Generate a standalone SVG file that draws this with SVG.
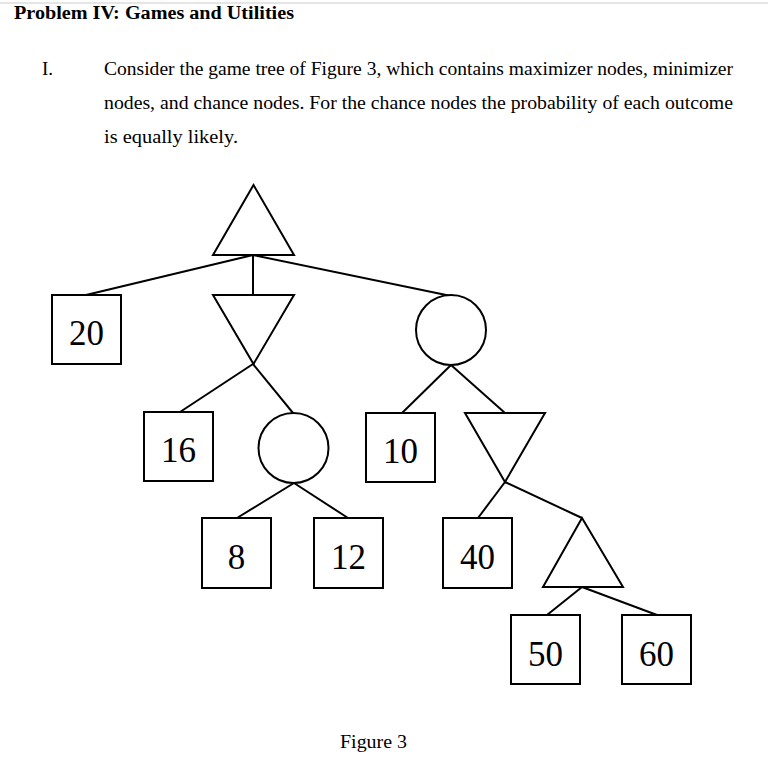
<svg xmlns="http://www.w3.org/2000/svg" width="768" height="766" viewBox="0 0 768 766">
<style>
.t{font-family:"Liberation Serif","Times New Roman",serif;fill:#000}
.s{fill:#fff;stroke:#000;stroke-width:2}
.n{font-family:"Liberation Serif","Times New Roman",serif;font-size:35px;text-anchor:middle}
.c line{stroke:#000;stroke-width:2}
</style>
<rect width="768" height="766" fill="#fff"/>
<line x1="0" y1="3" x2="768" y2="3" stroke="#ccc" stroke-width="1"/>
<text class="t" x="14" y="19" font-size="18.5" font-weight="bold" textLength="280" lengthAdjust="spacingAndGlyphs">Problem IV: Games and Utilities</text>
<text class="t" x="42" y="75" font-size="19">I.</text>
<text class="t" x="104" y="75" font-size="19" textLength="629" lengthAdjust="spacingAndGlyphs">Consider the game tree of Figure 3, which contains maximizer nodes, minimizer</text>
<text class="t" x="104" y="109" font-size="19" textLength="629" lengthAdjust="spacingAndGlyphs">nodes, and chance nodes. For the chance nodes the probability of each outcome</text>
<text class="t" x="104" y="143" font-size="19" textLength="134" lengthAdjust="spacingAndGlyphs">is equally likely.</text>
<g class="c">
<line x1="253" y1="255" x2="86" y2="295"/>
<line x1="253" y1="255" x2="253" y2="295"/>
<line x1="253" y1="255" x2="451" y2="296"/>
<line x1="253" y1="364" x2="180" y2="412"/>
<line x1="253" y1="364" x2="293" y2="413"/>
<line x1="451" y1="365" x2="402" y2="413"/>
<line x1="451" y1="365" x2="505" y2="413"/>
<line x1="294" y1="483" x2="237" y2="518"/>
<line x1="294" y1="483" x2="348" y2="518"/>
<line x1="505" y1="482" x2="478" y2="518"/>
<line x1="505" y1="482" x2="582" y2="518"/>
<line x1="582" y1="587" x2="547" y2="615"/>
<line x1="582" y1="587" x2="657" y2="615"/>
</g>
<g id="root"><polygon class="s" points="253.5,185 294,255 213,255"/></g>
<g id="n20"><rect class="s" x="52" y="295" width="69" height="69"/><text class="n" x="86.5" y="345">20</text></g>
<g id="min1"><polygon class="s" points="213,295 294,295 253.5,364"/></g>
<g id="ch1"><circle class="s" cx="451" cy="330" r="35"/></g>
<g id="n16"><rect class="s" x="144" y="412" width="69" height="69"/><text class="n" x="178.5" y="462">16</text></g>
<g id="ch2"><circle class="s" cx="293.5" cy="448" r="35"/></g>
<g id="n10"><rect class="s" x="366" y="413" width="69" height="69"/><text class="n" x="400.5" y="463">10</text></g>
<g id="min2"><polygon class="s" points="465,413 545,413 505,482"/></g>
<g id="n8"><rect class="s" x="202" y="518" width="69" height="70"/><text class="n" x="236.5" y="569">8</text></g>
<g id="n12"><rect class="s" x="314" y="518" width="69" height="70"/><text class="n" x="348.5" y="569">12</text></g>
<g id="n40"><rect class="s" x="443" y="518" width="69" height="70"/><text class="n" x="477.5" y="569">40</text></g>
<g id="max2"><polygon class="s" points="582,518 623,587 543,587"/></g>
<g id="n50"><rect class="s" x="511" y="615" width="69" height="69"/><text class="n" x="545.5" y="666">50</text></g>
<g id="n60"><rect class="s" x="622" y="615" width="69" height="69"/><text class="n" x="656.5" y="666">60</text></g>
<text class="t" x="340" y="748" font-size="19" textLength="67" lengthAdjust="spacingAndGlyphs">Figure 3</text>
</svg>
